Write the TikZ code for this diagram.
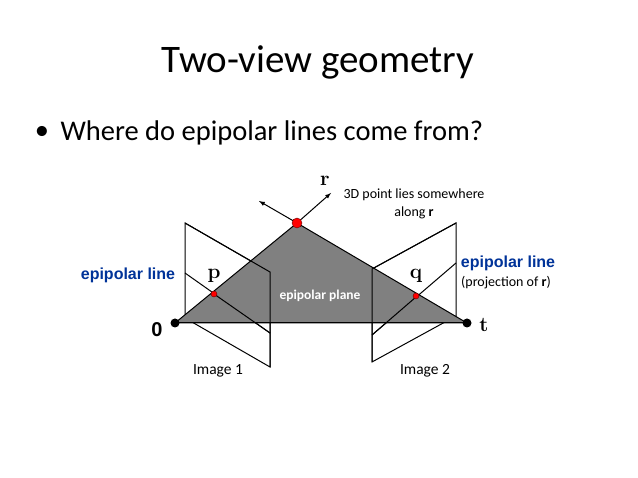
\documentclass[tikz,border=0pt]{standalone}
\usepackage{amsmath}
\usepackage[no-math]{fontspec}
\setmainfont{Carlito}
\newfontfamily\arial{Liberation Sans}
\begin{document}
\begin{tikzpicture}[x=1pt,y=-1pt,
  ln/.style={black,line width=1pt},
  blue lbl/.style={font=\arial\bfseries\fontsize{16}{18}\selectfont,text=blue!50!black!80!cyan},
  dotr/.style={circle,fill=red,draw=black!60!red,inner sep=0pt,minimum size=#1}]
\useasboundingbox[fill=white] (0,0) rectangle (638,478);
\node (title) at (318,62) {\fontsize{39}{44}\selectfont Two-view geometry};
\node (bdot) at (42,133) {\fontsize{28.5}{32}\selectfont \textbullet};
\node[anchor=west] (bul) at (57,133) {\fontsize{28.5}{32}\selectfont Where do epipolar lines come from?};
% image planes
\draw[ln] (185,223) -- (270,272) -- (270,367) -- (185,318) -- cycle;
\draw[ln] (185,273) -- (270,333);
\draw[ln] (372,269) -- (456,223) -- (456,316) -- (372,362) -- cycle;
\draw[ln] (372,335) -- (456,263);
% epipolar plane
\coordinate (o) at (175,323);
\coordinate (t) at (467,323);
\coordinate (r) at (297,223);
\fill[black!50,draw=black,line width=1pt] (o) -- (r) -- (t) -- cycle;
% front parts
\draw[ln] (185,223) -- (270,272) -- (270,367);
\draw[ln] (214,294) -- (270,333);
\draw[ln] (456,223) -- (372,269) -- (372,362);
\draw[ln] (372,335) -- (416,297);
\draw[ln] (o) -- (t);
\coordinate (a1) at (259,201);
\coordinate (a2) at (331,193);
\draw[ln,-latex] (r) -- (a1);
\draw[ln,-latex] (r) -- (a2);
\node[dotr=10pt] (rd) at (r) {};
\node[dotr=6pt] (pd) at (214,294) {};
\node[dotr=6pt] (qd) at (416,296) {};
\node[circle,fill=black,inner sep=0pt,minimum size=9pt] (od) at (o) {};
\node[circle,fill=black,inner sep=0pt,minimum size=9pt] (td) at (t) {};
\node (rl) at (325,181) {\fontsize{20}{22}\selectfont $\mathbf{r}$};
\node (pl) at (214,276) {\fontsize{20}{22}\selectfont $\mathbf{p}$};
\node (ql) at (416,276) {\fontsize{20}{22}\selectfont $\mathbf{q}$};
\node (tl) at (484,325) {\fontsize{20}{22}\selectfont $\mathbf{t}$};
\node (zl) at (157,330) {\arial\bfseries\fontsize{20}{22}\selectfont 0};
\node[align=center,font=\fontsize{14}{18}\selectfont] (txt) at (414,204) {3D point lies somewhere\\ along \textbf{r}};
\node[blue lbl] (el1) at (128,275) {epipolar line};
\node[blue lbl] (el2) at (508,263) {epipolar line};
\node (proj) at (506,283) {\fontsize{14}{16}\selectfont (projection of \textbf{r})};
\node[text=white] (ep) at (320,296) {\fontsize{13.5}{15}\selectfont\bfseries epipolar plane};
\node (i1) at (218,371) {\fontsize{15.5}{17}\selectfont Image 1};
\node (i2) at (425,371) {\fontsize{15.5}{17}\selectfont Image 2};
\end{tikzpicture}
\end{document}
